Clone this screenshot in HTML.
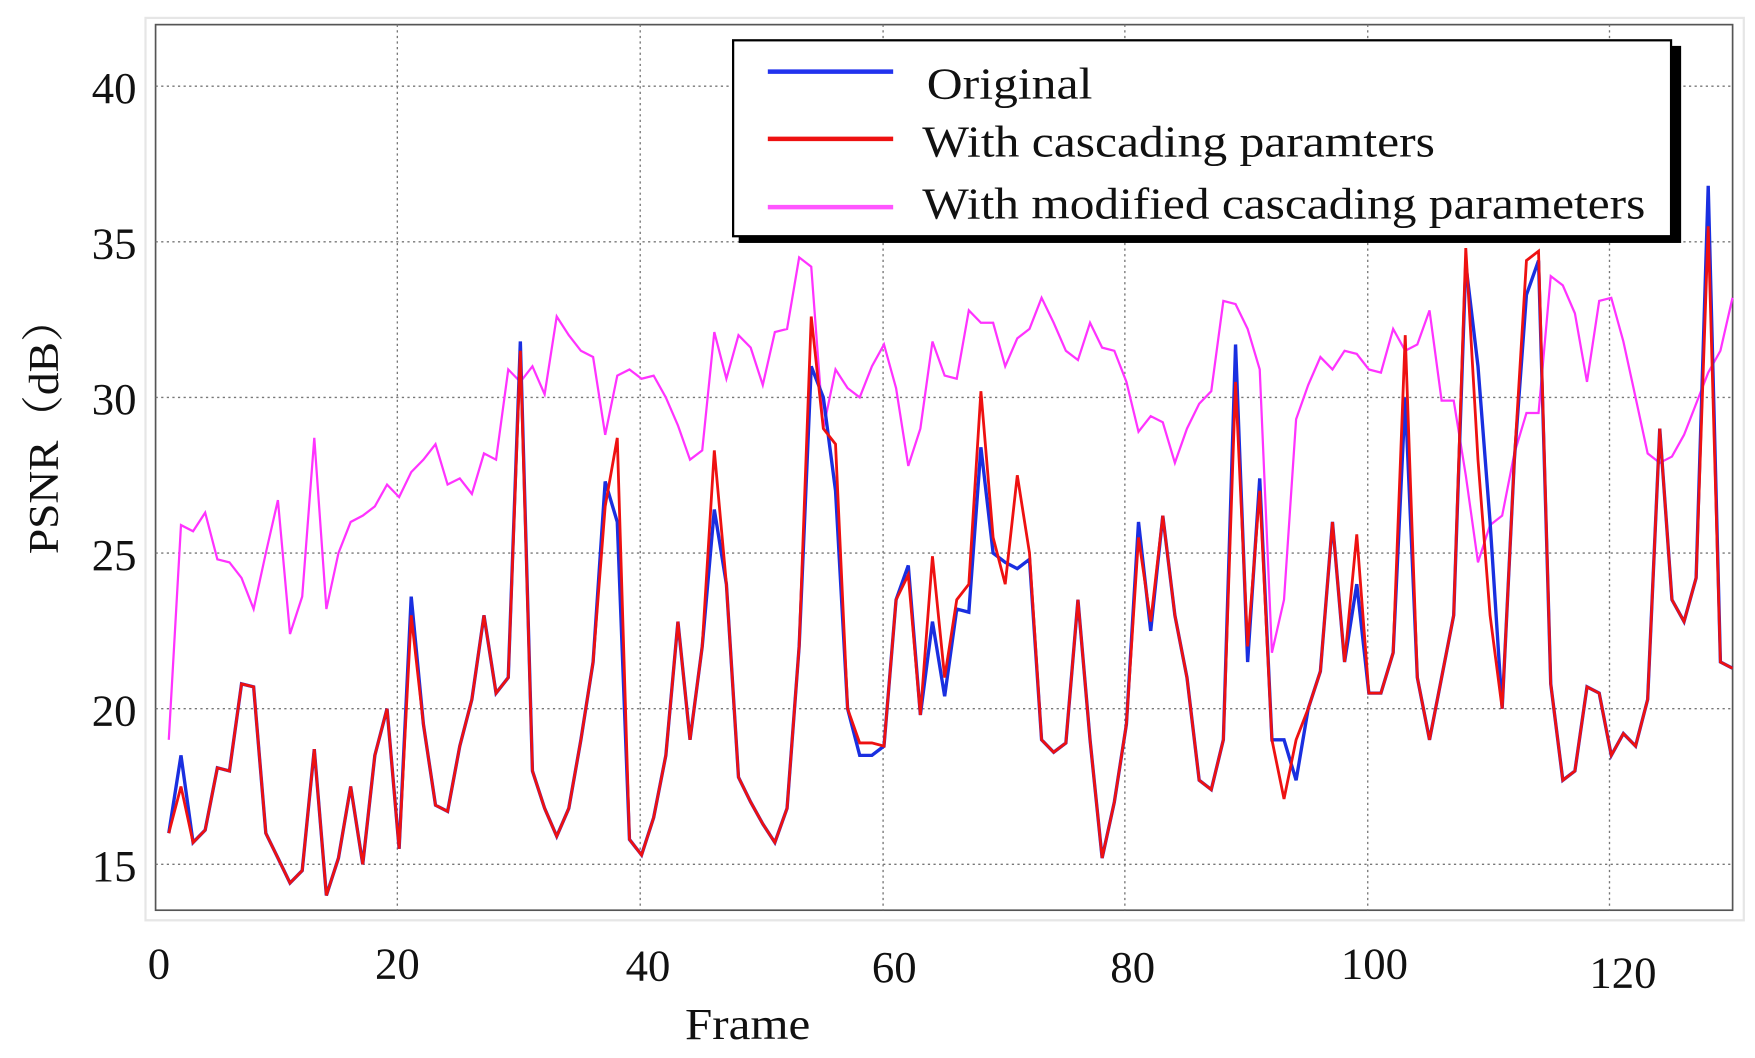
<!DOCTYPE html>
<html><head><meta charset="utf-8"><style>
html,body{margin:0;padding:0;background:#fff;width:1755px;height:1058px;overflow:hidden}
svg{display:block}
text{font-family:"Liberation Serif","Noto Serif CJK SC",serif;fill:#111}
</style></head><body>
<svg id="s" width="1755" height="1058" viewBox="0 0 1568 945" preserveAspectRatio="none" xmlns="http://www.w3.org/2000/svg">
<rect x="130" y="16" width="1428" height="806" fill="none" stroke="#e6e6e6" stroke-width="2"/>
<rect x="139" y="22" width="1409" height="791" fill="#fff" stroke="#555" stroke-width="1.5"/>
<g stroke="#777" stroke-width="1.2" stroke-dasharray="2,3">
<line x1="139" x2="1548" y1="77" y2="77"/><line x1="139" x2="1548" y1="216" y2="216"/>
<line x1="139" x2="1548" y1="355" y2="355"/><line x1="139" x2="1548" y1="494" y2="494"/>
<line x1="139" x2="1548" y1="633" y2="633"/><line x1="139" x2="1548" y1="772" y2="772"/>
<line y1="22" y2="813" x1="355" x2="355"/><line y1="22" y2="813" x1="572" x2="572"/>
<line y1="22" y2="813" x1="789" x2="789"/><line y1="22" y2="813" x1="1005" x2="1005"/>
<line y1="22" y2="813" x1="1222" x2="1222"/><line y1="22" y2="813" x1="1438" x2="1438"/>
</g>
<g id="series"></g>
<g font-size="40" text-anchor="end">
<text x="122" y="92">40</text><text x="122" y="231">35</text><text x="122" y="370">30</text>
<text x="122" y="509">25</text><text x="122" y="648">20</text><text x="122" y="787">15</text>
</g>
<g font-size="40" text-anchor="middle">
<text x="142" y="874">0</text><text x="355" y="874">20</text><text x="579" y="876">40</text>
<text x="799" y="877">60</text><text x="1012" y="877">80</text><text x="1228" y="874">100</text><text x="1450" y="882">120</text>
<text x="668" y="928" textLength="112" lengthAdjust="spacingAndGlyphs">Frame</text>
</g>
<text font-size="38" text-anchor="middle" textLength="230" lengthAdjust="spacingAndGlyphs" transform="translate(52,380) rotate(-90)">PSNR（dB）</text>
<rect x="660" y="41" width="842" height="176" fill="#000"/>
<rect x="655" y="36" width="838" height="175" fill="#fff" stroke="#000" stroke-width="2"/>
<line x1="686" x2="798" y1="64" y2="64" stroke="#2233ee" stroke-width="4"/>
<line x1="686" x2="798" y1="124" y2="124" stroke="#ee1111" stroke-width="4"/>
<line x1="686" x2="798" y1="185" y2="185" stroke="#ff55ff" stroke-width="4"/>
<g font-size="40"><text x="828" y="88" textLength="148" lengthAdjust="spacingAndGlyphs">Original</text><text x="824" y="140" textLength="458" lengthAdjust="spacingAndGlyphs">With cascading paramters</text><text x="824" y="195" textLength="646" lengthAdjust="spacingAndGlyphs">With modified cascading parameters</text></g>
</svg>
<script>
var R=[16,17.5,15.7,16.1,18.1,18,20.8,20.7,16,15.2,14.4,14.8,18.7,14,15.2,17.5,15,18.5,20,15.5,23,19.5,16.9,16.7,18.8,20.3,23,20.5,21,31.5,18,16.8,15.9,16.8,19,21.5,26.5,28.7,15.8,15.3,16.5,18.5,22.8,19,22,28.3,24,17.8,17,16.3,15.7,16.8,22,32.6,29,28.5,20,18.9,18.9,18.8,23.5,24.3,19.8,24.9,21,23.5,24,30.2,25.5,24,27.5,25,19,18.6,18.9,23.5,19,15.2,17,19.5,25.5,22.8,26.2,23,21,17.7,17.4,19,30.5,22,27,19,17.1,19,20,21.2,26,21.5,25.6,20.5,20.5,21.8,32,21,19,21,23,34.8,28,23,20,28,34.4,34.7,20.8,17.7,18,20.7,20.5,18.5,19.2,18.8,20.3,29,23.5,22.8,24.2,35.5,21.5,21.3];
var B=R.slice();var bo={2:18.5,21:23.6,30:31.8,37:27.3,38:26,46:26.4,54:31,55:30,56:27,58:18.5,59:18.5,62:24.6,64:22.8,65:20.4,66:23.2,67:23.1,68:28.4,69:25,70:24.7,71:24.5,72:24.8,89:31.7,90:21.5,91:27.4,93:19,94:17.7,99:24,103:30,108:34.3,109:31,110:26,113:33.3,114:34.4,128:36.8,81:26,82:22.5};
for(var k in bo)B[k-1]=bo[k];
var M=[19,25.9,25.7,26.3,24.8,24.7,24.2,23.2,25,26.7,22.4,23.6,28.7,23.2,25,26,26.2,26.5,27.2,26.8,27.6,28,28.5,27.2,27.4,26.9,28.2,28,30.9,30.5,31,30.1,32.6,32,31.5,31.3,28.8,30.7,30.9,30.6,30.7,30,29.1,28,28.3,32.1,30.6,32,31.6,30.4,32.1,32.2,34.5,34.2,29,30.9,30.3,30,31,31.7,30.3,27.8,29,31.8,30.7,30.6,32.8,32.4,32.4,31,31.9,32.2,33.2,32.4,31.5,31.2,32.4,31.6,31.5,30.5,28.9,29.4,29.2,27.9,29,29.8,30.2,33.1,33,32.2,30.9,21.8,23.5,29.3,30.4,31.3,30.9,31.5,31.4,30.9,30.8,32.2,31.5,31.7,32.8,29.9,29.9,27.5,24.7,25.9,26.2,28.2,29.5,29.5,33.9,33.6,32.7,30.5,33.1,33.2,31.8,30,28.2,27.9,28.1,28.8,29.8,30.8,31.5,33.2];
function pts(a){return a.map(function(v,i){return (140+(i+1)*10.83).toFixed(1)+","+(77+(40-v)*27.8).toFixed(1)}).join(" ")}
var g=document.getElementById("series");
g.innerHTML='<polyline fill="none" stroke="#ff33ff" stroke-width="2" points="'+pts(M)+'"/>'+
'<polyline fill="none" stroke="#1a2fe0" stroke-width="3" points="'+pts(B)+'"/>'+
'<polyline fill="none" stroke="#ee1111" stroke-width="2.5" points="'+pts(R)+'"/>';
</script>
</body></html>
